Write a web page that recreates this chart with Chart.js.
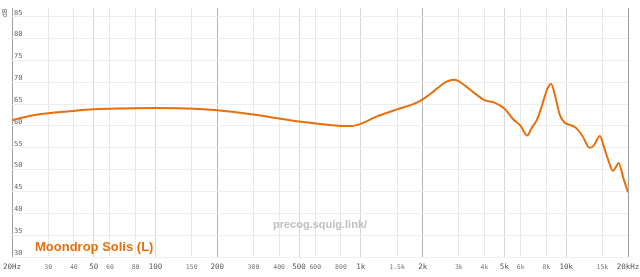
<!DOCTYPE html>
<html lang="en">
  <head>
    <meta charset="utf-8" />
    <title>Moondrop Solis (L)</title>
    <style>
      * { margin: 0; padding: 0; box-sizing: border-box; }
      body { background: #ffffff; width: 640px; height: 277px; overflow: hidden; }
      canvas { display: block; }
    </style>
  </head>
  <body>
    <canvas id="fr" width="640" height="277"></canvas>
    <script src="https://cdn.jsdelivr.net/npm/chart.js@4/dist/chart.umd.min.js"></script>
    <script>
      // frequency response
      const freqs = [20, 25, 30, 37, 50, 70, 100, 140, 200, 300, 400, 500, 650, 800, 900, 1000, 1200, 1500, 1800, 2000,
        2300, 2600, 2860, 3200, 3600, 4000, 4500, 5000, 5500, 6000, 6450, 6800, 7200, 7600, 8100, 8450, 8800, 9300, 9800,
        10500, 11200, 12000, 13000, 13600, 14600, 15200, 16000, 16900, 17500, 18000, 19000, 20000];
      const spl = [61.3, 62.4, 62.9, 63.3, 63.8, 64.0, 64.1, 64.0, 63.6, 62.6, 61.7, 61.0, 60.4, 60.0, 60.0, 60.5, 62.2, 63.8, 65.0, 66.1,
        68.2, 70.1, 70.6, 69.3, 67.4, 65.9, 65.3, 64.0, 61.6, 60.0, 57.8, 59.6, 61.4, 64.5, 68.5, 69.6, 67.2, 62.6, 60.8,
        60.2, 59.5, 57.7, 55.0, 55.5, 57.7, 55.5, 52.3, 49.7, 50.7, 51.5, 48.0, 44.8];

      const xTicks = [20, 30, 40, 50, 60, 80, 100, 150, 200, 300, 400, 500, 600, 800, 1000, 1500, 2000, 3000, 4000, 5000, 6000, 8000, 10000, 15000, 20000];
      const xLabels = ["20Hz", "30", "40", "50", "60", "80", "100", "150", "200", "300", "400", "500", "600", "800", "1k", "1.5k", "2k", "3k", "4k", "5k", "6k", "8k", "10k", "15k", "20kHz"];
      const majorTicks = [20, 50, 100, 200, 500, 1000, 2000, 5000, 10000, 20000];
      const yTicks = [30, 35, 40, 45, 50, 55, 60, 65, 70, 75, 80, 85];

      const orange = "#e8700c";

      const gridColor = (v) => {
        if (v === 20 || v === 20000) return "#a0a0a0";
        if (v === 200 || v === 2000) return "#b4b4b4";
        if (v === 50 || v === 100 || v === 500 || v === 1000 || v === 5000 || v === 10000) return "#d8d8d8";
        return "#e8e8e8";
      };

      const extras = {
        id: "extras",
        afterDraw(chart) {
          const c = chart.ctx;
          c.save();
          // dB unit
          c.translate(5, 13);
          c.rotate(-Math.PI / 2);
          c.fillStyle = "#666";
          c.font = "7px 'DejaVu Sans Mono'";
          c.textAlign = "center";
          c.textBaseline = "middle";
          c.fillText("dB", 0, 0);
          c.restore();

          c.save();
          c.fillStyle = "#c0c0c0";
          c.font = "bold 11px 'Liberation Sans'";
          c.textAlign = "center";
          c.textBaseline = "alphabetic";
          c.fillText("precog.squig.link/", 320, 228);

          c.fillStyle = orange;
          c.font = "bold 13px 'Liberation Sans'";
          c.textAlign = "left";
          c.fillText("Moondrop Solis (L)", 35, 251);
          c.restore();
        }
      };

      new Chart(document.getElementById("fr"), {
        type: "line",
        plugins: [extras],
        data: {
          datasets: [{
            data: freqs.map((f, i) => ({ x: f, y: spl[i] })),
            borderColor: orange,
            borderWidth: 2,
            pointRadius: 0,
            cubicInterpolationMode: "monotone",
            fill: false
          }]
        },
        options: {
          responsive: false,
          animation: false,
          devicePixelRatio: 1,
          layout: { padding: { top: 8, right: 12, left: 0, bottom: 0 } },
          plugins: { legend: { display: false }, tooltip: { enabled: false } },
          scales: {
            x: {
              type: "logarithmic",
              min: 20,
              max: 20000,
              afterBuildTicks: (s) => { s.ticks = xTicks.map((v) => ({ value: v })); },
              afterFit: (s) => { s.height = 20; s.paddingLeft = 0; s.paddingRight = 0; },
              border: { display: false },
              grid: {
                color: (ctx) => gridColor(ctx.tick ? ctx.tick.value : 0),
                lineWidth: 1,
                drawTicks: false
              },
              ticks: {
                autoSkip: false,
                maxRotation: 0,
                padding: 6,
                color: (ctx) => (majorTicks.includes(ctx.tick.value) ? "#555" : "#777"),
                font: (ctx) => ({ family: "'DejaVu Sans Mono'", size: majorTicks.includes(ctx.tick.value) ? 7.5 : 6.5 }),
                callback: (v) => { const i = xTicks.indexOf(v); return i >= 0 ? xLabels[i] : ""; }
              }
            },
            y: {
              min: 30,
              max: 87,
              afterBuildTicks: (s) => { s.ticks = yTicks.map((v) => ({ value: v })); },
              afterFit: (s) => { s.width = 12; },
              border: { display: false },
              grid: { color: "#eeeeee", lineWidth: 1, drawTicks: false },
              ticks: {
                mirror: true,
                padding: 2,
                labelOffset: -4,
                color: "#666",
                font: { family: "'DejaVu Sans Mono'", size: 7 }
              }
            }
          }
        }
      });
    </script>
  </body>
</html>
